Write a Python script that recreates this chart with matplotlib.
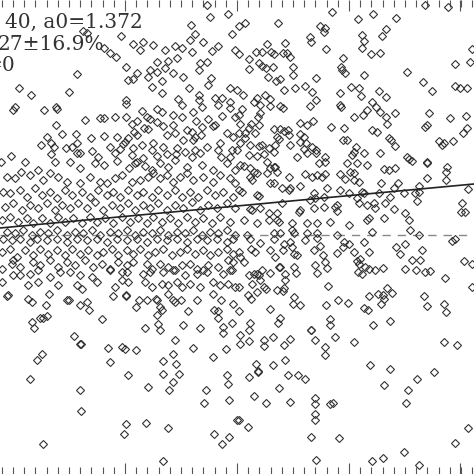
import numpy as np
import matplotlib.pyplot as plt
from matplotlib.ticker import FixedLocator

# point positions read per quadrant of the picture (zoomed 3x), image-pixel units after /3 + offset
q_tl = [(620,15),(630,52),(685,42),(573,75),(695,103),(248,92),(262,100),(362,107),(585,103),(570,120),(400,133),(428,125),(460,135),(525,137),(545,145),(575,155),(610,125),(637,152),(655,137),(705,150),(312,145),(330,158),(348,170),(420,150),(495,150),(470,187),(505,182),(530,175),(600,190),(620,187),(378,200),(230,222),(410,220),(450,210),(470,217),(495,205),(518,218),(598,210),(385,240),(400,237),(445,232),(485,242),(550,232),(632,235),(625,255),(57,263),(93,285),(207,275),(455,260),(485,278),(568,265),(690,265),(378,300),(378,313),(535,297),(598,285),(598,300),(645,295),(665,293),(690,305),(45,320),(40,330),(133,330),(168,322),(172,327),(425,333),(470,327),(485,337),(545,315),(578,335),(605,322),(655,315),(690,325),(255,360),(300,355),(312,355),(345,350),(378,352),(410,362),(440,352),(450,358),(470,365),(520,345),(545,350),(588,362),(625,358),(645,375),(665,348),(705,350),(168,375),(395,372),(402,395),(432,385),(445,387),(488,378),(518,375),(525,400),(560,390),(575,395),(585,410),(605,380),(640,378),(680,398),(185,402),(228,402),(140,412),(272,415),(313,408),(352,410),(375,427),(385,415),(410,405),(460,428),(500,405),(550,420),(578,420),(602,405),(660,430),(700,410),(124,435),(152,430),(163,440),(197,445),(217,440),(232,430),(275,452),(330,440),(360,448),(370,433),(400,445),(425,435),(455,450),(490,440),(530,445),(555,455),(585,450),(620,440),(655,450),(695,450),(32,468),(2,485),(153,463),(230,458),(240,458),(295,472),(345,458),(395,465),(410,485),(430,475),(470,468),(500,462),(527,462),(575,470),(600,460),(663,470),(690,470),(75,487),(115,510),(63,515),(165,485),(210,485),(240,505),(285,490),(312,495),(350,482),(388,505),(405,490),(435,498),(455,510),(480,490),(505,500),(525,480),(562,500),(605,495),(640,510),(680,490),(705,510),
    (20,530),(45,535),(90,525),(130,540),(150,520),(175,530),(200,545),(240,550),(270,530),(300,545),(320,550),(345,535),(365,525),(395,545),(420,540),(445,530),(460,520),(480,535),(500,525),(520,545),(540,530),(560,520),(580,540),(610,530),(640,545),(660,525),(690,535),(705,550),
    (10,575),(30,580),(60,570),(80,590),(105,565),(125,585),(150,575),(170,595),(195,570),(215,585),(245,575),(270,590),(295,570),(320,585),(340,575),(360,590),(385,570),(410,585),(430,575),(455,590),(475,570),(500,585),(525,570),(545,590),(570,575),(595,590),(620,570),(645,585),(670,575),(700,590),
    (15,620),(40,610),(65,630),(90,615),(115,625),(140,610),(165,630),(185,615),(210,625),(235,610),(260,625),(285,605),(310,630),(335,615),(360,625),(385,610),(405,630),(430,615),(450,625),(475,610),(500,630),(525,615),(550,625),(575,605),(600,630),(625,615),(650,625),(680,610),(705,625),
    (5,660),(30,650),(55,665),(80,655),(100,670),(125,655),(150,670),(175,650),(195,665),(220,655),(245,670),(270,650),(290,665),(315,655),(340,670),(365,650),(390,665),(415,655),(440,670),(460,650),(485,665),(510,655),(535,670),(560,650),(585,665),(610,655),(635,670),(660,650),(690,665),
    (20,695),(45,700),(70,690),(95,705),(120,695),(145,700),(170,690),(200,705),(225,695),(250,700),(275,690),(300,705),(330,695),(355,700),(380,690),(405,705),(430,695),(455,700),(480,690),(505,705),(530,695),(555,700),(580,690),(605,705),(630,695),(655,700),(680,690),(705,705)]

q_tr = [(565,15),(632,22),(285,37),(408,42),(478,53),(362,58),(123,68),(25,68),(5,77),(250,77),(265,83),(262,95),(448,87),(375,105),(380,122),(435,108),(218,112),(222,127),(90,133),(145,130),(375,143),(268,147),(58,155),(75,157),(103,157),(110,163),(138,158),(150,160),(160,170),(403,163),(428,158),(5,163),(705,148),(700,185),(35,178),(318,175),(65,190),(75,197),(88,203),(108,200),(168,200),(312,200),(315,210),(325,218),(655,193),(510,215),(380,225),(168,225),(35,208),(118,243),(128,237),(92,230),(237,235),(558,247),(585,272),(655,257),(668,263),(690,263),(343,260),(365,265),(425,272),(140,270),(175,265),(205,258),(225,275),(0,270),(18,285),(50,305),(60,295),(68,315),(85,285),(100,298),(100,318),(130,318),(138,325),(218,318),(238,300),(310,280),(372,287),(447,290),(405,305),(310,315),(312,322),(418,320),(430,335),(575,338),(640,355),(688,348),(15,328),(62,350),(70,340),(5,345),(352,350),(378,345),(390,330),(447,350),(475,338),(10,372),(42,372),(65,375),(35,385),(188,370),(210,375),(228,362),(283,380),(322,383),(450,372),(570,375),(565,380),(690,385),(678,398),(405,390),(420,395),(5,400),(25,400),(55,400),(110,388),(130,388),(140,392),(153,390),(120,410),(125,418),(155,405),(190,402),(200,410),(10,430),(25,415),(40,435),(65,438),(75,435),(95,445),(115,435),(158,435),(188,425),(208,430),(225,440),(237,450),(318,420),(330,420),(358,440),(455,415),(462,420),(475,437),(605,422),(615,435),(620,430),(648,422),(0,450),(35,465),(60,468),(80,462),(110,455),(180,470),(210,460),(200,448),(238,460),(265,470),(345,465),(350,455),(380,460),(428,460),(510,472),(525,483),(570,487),(570,490),(515,478),(10,495),(20,497),(40,505),(50,515),(90,485),(100,505),(115,500),(245,490),(265,487),(330,490),(360,490),(390,495),(442,508),(455,510),(475,505),(630,500),(40,530),(45,540),(60,520),(90,518),(110,502),(120,515),(155,532),(205,522),(225,532),(240,525),(255,530),(265,522),(310,522),(325,538),(340,515),(350,518),(352,540),(365,545),(432,548),(470,565),(482,550),(545,558),(570,535),(628,515),(628,540),(100,548),(110,550),(5,570),(15,575),(60,585),(65,587),(135,565),(155,570),(160,565),(190,558),(230,578),(235,595),(260,590),(270,565),(310,570),(335,580),(360,595),(375,575),(380,580),(425,580),(460,590),(500,580),(535,578),(545,575),(692,568),(40,628),(45,630),(70,625),(95,638),(120,640),(135,610),(185,635),(190,630),(220,600),(230,625),(260,620),(300,615),(295,620),(300,632),(365,610),(390,615),(410,610),(415,625),(445,608),(470,628),(505,640),(540,603),(675,610),(672,635),(685,635),(22,660),(60,668),(95,660),(120,660),(125,665),(165,670),(210,668),(240,668),(280,665),(335,675),(390,660),(395,655),(440,655),(515,660),(30,705),(110,700),(130,700),(165,690),(170,700),(210,700),(240,700),(300,705),(405,695),(520,690),(545,705)]

q_bl = [(10,5),(35,10),(60,5),(90,15),(110,5),(140,10),(170,5),(200,15),(230,5),(260,10),(290,5),(320,15),(350,5),(380,10),(410,5),(440,15),(470,5),(500,10),(530,5),(560,15),(590,5),(620,10),(650,5),(680,15),(700,5),
    (5,45),(30,35),(50,60),(75,40),(100,55),(120,35),(145,50),(170,40),(195,55),(215,35),(240,50),(265,40),(290,55),(310,45),(335,35),(355,55),(380,40),(400,50),(420,35),(445,55),(465,45),(490,35),(515,55),(540,45),(560,35),(585,50),(610,40),(630,55),(655,45),(680,35),(700,50),
    (40,70),(35,80),(60,90),(100,75),(120,85),(150,70),(175,90),(200,75),(225,85),(255,70),(280,90),(305,80),(330,95),(355,75),(380,85),(400,75),(440,80),(455,95),(480,80),(505,90),(525,100),(545,85),(570,80),(590,95),(610,100),(625,85),(655,90),(685,70),(700,75),(695,100),
    (5,95),(40,115),(60,115),(90,110),(115,100),(150,120),(180,105),(210,105),(240,115),(275,120),(330,100),(365,105),(380,105),(430,110),(450,105),(490,105),(520,100),(555,115),(590,110),(620,105),(670,110),(690,100),
    (5,135),(85,145),(115,135),(175,145),(230,145),(245,155),(290,135),(345,150),(365,130),(385,135),(435,135),(455,150),(485,140),(505,145),(530,135),(545,150),(570,140),(600,150),(640,135),(660,145),(685,140),(705,150),
    (20,178),(25,175),(85,185),(95,195),(148,172),(200,190),(208,190),(240,205),(260,195),(268,220),(305,245),(340,178),(378,175),(378,178),(408,210),(418,188),(442,188),(468,185),(470,190),(480,210),(485,220),(505,172),(520,190),(525,195),(543,190),(565,222),(590,190),(640,170),(643,220),(655,222),(655,243),(663,188),(700,200),
    (137,205),(95,255),(103,272),(120,243),(128,243),(140,236),(222,298),(240,320),(242,322),(325,333),(330,375),(365,330),(375,335),(408,340),(385,415),(435,273),(470,233),(475,262),(480,278),(525,308),(518,350),(528,382),(538,410),(490,372),(488,412),(520,435),(508,460),(550,263),(578,332),(600,273),(668,270),(668,287),(695,258),(678,335),(638,360),(682,413),(685,440),(688,488),(618,460),(612,498),(90,427),(112,368),(125,352),(240,460),(243,522),(445,450),(378,560),(373,590),(438,558),(505,572),(643,592),(665,620),(688,600),(128,620),(490,672),(710,548)]

q_br = [(40,5),(68,17),(110,5),(140,20),(160,15),(205,10),(240,3),(320,15),(335,20),(380,15),(505,20),(655,5),(645,12),(5,45),(10,60),(20,75),(42,37),(55,45),(100,38),(115,60),(138,40),(165,30),(170,50),(180,55),(230,40),(250,28),(258,55),(265,75),(300,48),(318,30),(350,45),(395,45),(478,30),(490,50),(555,40),(525,70),(550,70),(680,72),(705,80),(360,72),(370,65),(365,80),(385,90),(395,95),(415,100),(438,92),(503,95),(538,100),(565,105),(578,102),(625,122),(75,100),(65,115),(100,108),(125,90),(130,90),(145,112),(170,90),(178,108),(235,83),(240,108),(270,92),(35,115),(50,112),(60,112),(70,130),(45,140),(80,150),(88,155),(60,165),(5,150),(120,160),(140,152),(145,130),(138,162),(272,147),(363,105),(375,112),(32,175),(42,185),(100,215),(170,180),(168,200),(188,205),(268,205),(302,188),(332,197),(380,213),(393,220),(395,178),(422,170),(438,175),(440,185),(432,200),(450,152),(465,168),(562,178),(570,208),(622,200),(628,225),(5,222),(40,258),(35,280),(8,295),(10,322),(35,312),(80,308),(80,328),(108,300),(128,243),(122,258),(160,307),(140,325),(222,278),(222,280),(235,308),(278,245),(278,265),(295,300),(265,330),(265,355),(350,315),(408,265),(460,252),(620,315),(660,325),(58,382),(62,402),(62,405),(35,420),(108,385),(145,368),(153,415),(182,415),(203,425),(398,383),(460,395),(590,405),(125,452),(50,478),(88,498),(160,495),(233,482),(235,502),(278,500),(288,498),(442,445),(513,458),(540,427),(508,498),(5,548),(33,570),(233,530),(233,550),(222,600),(305,603),(693,572),(655,617),(500,645),(238,668),(405,672),(438,663),(545,685),(705,150)]

offsets = {"tl": (0, 0), "tr": (237, 0), "bl": (0, 237), "br": (237, 237)}
quads = {"tl": q_tl, "tr": q_tr, "bl": q_bl, "br": q_br}

# fit line (image units): y at left and right edges, and the reference level
fit_left, fit_right = 228, 184
ref_level = 235
major_ticks = [125, 237, 349, 460]

fig = plt.figure(figsize=(4.74, 4.74), dpi=100)
ax = fig.add_axes([0, 0, 1, 1])
for k, pts in quads.items():
    ox, oy = offsets[k]
    a = np.array(pts, dtype=float)
    ax.plot(ox + a[:, 0] / 3, oy + a[:, 1] / 3, "D", ms=4.5, mfc="none",
            mec="#333333", mew=0.8, zorder=2)

ax.plot([0, 474], [fit_left, fit_right], "-", color="#222222", lw=1.2, zorder=3)
ax.axhline(ref_level, color="#888888", lw=1.0, ls=(0, (6, 5)), zorder=1)

ax.set_xlim(0, 474)
ax.set_ylim(474, 0)
for s in ax.spines.values():
    s.set_visible(False)
ax.xaxis.set_major_locator(FixedLocator(major_ticks))
ax.xaxis.set_minor_locator(FixedLocator(np.arange(125 - 11.2 * 11, 475, 11.2)))
ax.tick_params(axis="x", which="both", direction="in", top=True, bottom=True,
               labelbottom=False, labeltop=False, color="#555555", width=0.8)
ax.tick_params(axis="x", which="major", length=8)
ax.tick_params(axis="x", which="minor", length=5)
ax.tick_params(axis="y", which="both", left=False, right=False, labelleft=False)

font = dict(family="DejaVu Serif", fontsize=14.5, color="#333333", ha="right", va="baseline")
ax.text(143, 28, "40, a0=1.372", **font)
ax.text(104, 50, "27±16.9%", **font)
ax.text(16, 71, "=0", **font)

fig.savefig("out.png", dpi=100, facecolor="white")
